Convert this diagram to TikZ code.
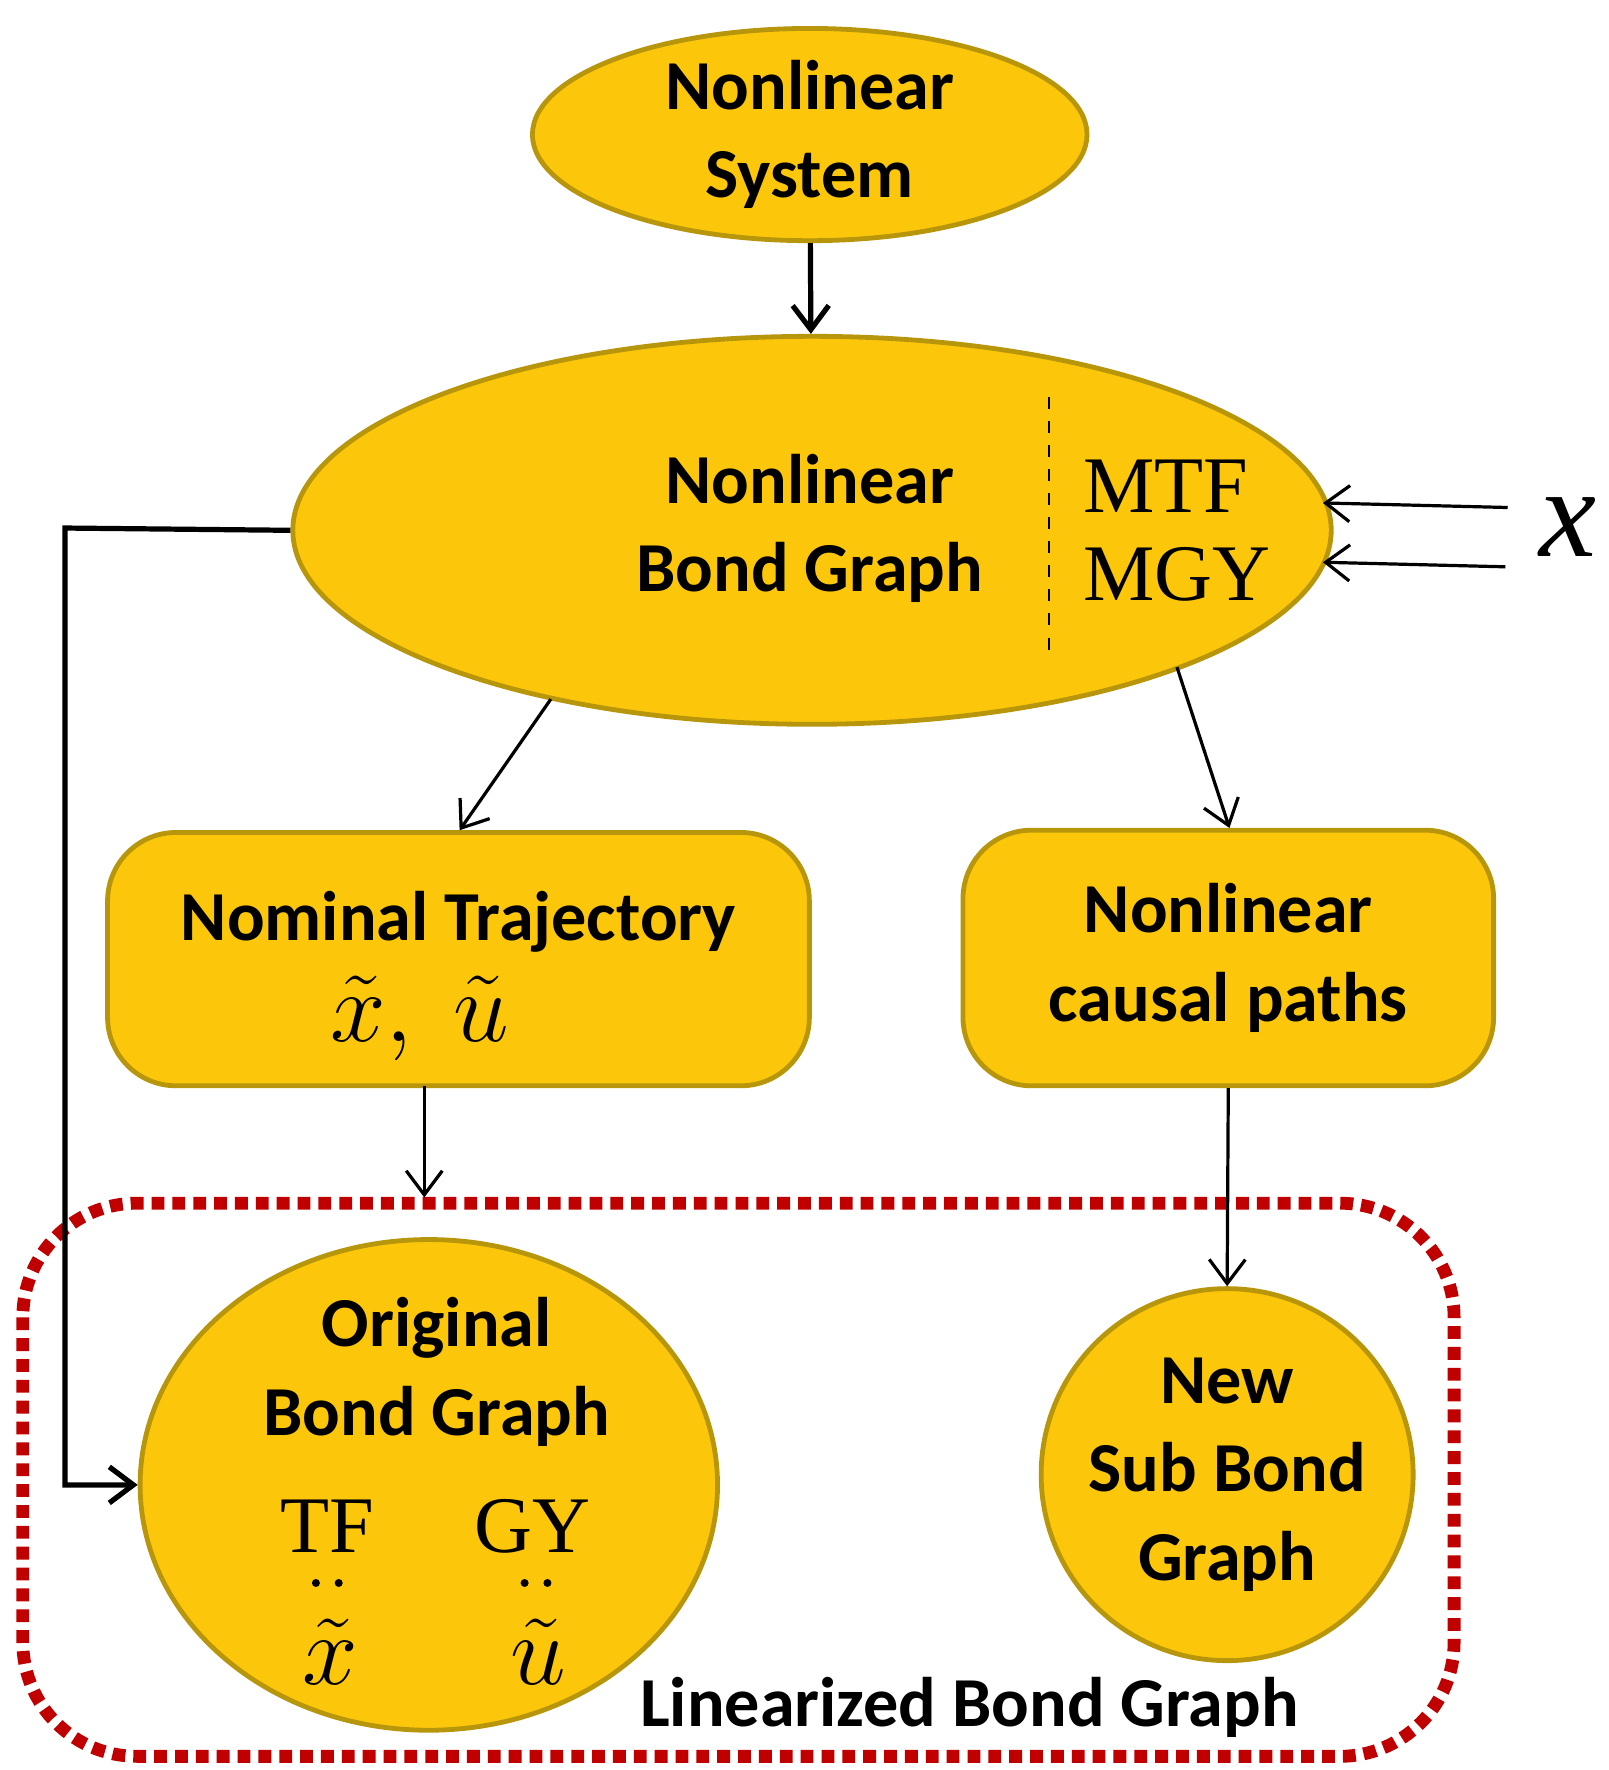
\documentclass[tikz,border=0pt]{standalone}
\usepackage{fontspec}
\setmainfont{Carlito}
\newfontfamily\serifrm{Liberation Serif}
\usetikzlibrary{shapes.geometric,arrows.meta}
\definecolor{gold}{RGB}{252,199,10}
\definecolor{goldline}{RGB}{184,150,12}
\definecolor{dotred}{RGB}{192,0,0}
\tikzset{
  blob/.style={fill=gold,draw=goldline,line width=1.2pt,inner sep=0pt,
    align=center,font=\fontsize{17.5}{22}\selectfont\bfseries},
  oval/.style={blob,ellipse},
  card/.style={blob,rectangle,rounded corners=0.6cm},
  thickarrow/.style={-{Straight Barb[length=6pt,width=9pt]},line width=1.3pt},
  thinarrow/.style={-{Straight Barb[length=6pt,width=9pt]},line width=0.8pt}
}
\begin{document}
\begin{tikzpicture}[x=0.01cm,y=-0.01cm]
  \useasboundingbox (0,0) rectangle (1410,1552);

  % linearized region
  \draw[dotred,line width=3.2pt,dotted,rounded corners=1cm] (20,1055) rectangle (1275,1540);
  \node[font=\fontsize{17.5}{22}\selectfont\bfseries] (lin) at (850,1497) {Linearized Bond Graph};

  \node[oval,minimum width=4.86cm,minimum height=1.86cm] (sys) at (710,118) {Nonlinear\\System};
  \node[oval,minimum width=9.1cm,minimum height=3.4cm] (nbg) at (712,465) {};
  \node[blob,fill=none,draw=none] (nbgtxt) at (710,463) {Nonlinear\\Bond Graph};
  \draw[dashed,line width=0.6pt] (920,348) -- (920,578);
  \node[font=\serifrm\fontsize{20}{22}\selectfont,align=left] (mtf) at (1032,465) {MTF\\MGY};
  \node[font=\serifrm\itshape\fontsize{32}{32}\selectfont] (xin) at (1375,462) {x};

  \node[card,minimum width=6.15cm,minimum height=2.22cm] (nom) at (402,841) {};
  \node[font=\fontsize{17.5}{22}\selectfont\bfseries] (nomtxt) at (402,808) {Nominal Trajectory};
  \node[font=\fontsize{26}{26}\selectfont] (nommath) at (368,893) {$\tilde{x},\ \tilde{u}$};
  \node[card,minimum width=4.65cm,minimum height=2.24cm] (ncp) at (1077,840) {Nonlinear\\causal paths};

  \node[oval,minimum width=5.06cm,minimum height=4.3cm] (obg) at (376,1302) {};
  \node[blob,fill=none,draw=none] (obgtxt) at (383,1203) {Original\\Bond Graph};
  \node[font=\serifrm\fontsize{20}{24}\selectfont] (tf) at (287,1338) {TF};
  \node[font=\serifrm\fontsize{20}{24}\selectfont] (gy) at (467,1338) {GY};
  \fill (277,1388) circle (3.5) (297,1388) circle (3.5) (460,1388) circle (3.5) (480,1388) circle (3.5);
  \node[font=\fontsize{28}{28}\selectfont] (xdd) at (290,1448) {$\tilde{x}$};
  \node[font=\fontsize{28}{28}\selectfont] (udd) at (472,1448) {$\tilde{u}$};

  \node[oval,circle,minimum size=3.26cm] (sub) at (1076,1293) {New\\Sub Bond\\Graph};

  \coordinate (x1) at (1322,445);
  \coordinate (x2) at (1320,497);
  \coordinate (nomout) at (372,952);
  \coordinate (lin top) at (372,1050);
  \coordinate (turn1) at (57,463);
  \coordinate (turn2) at (57,1302);

  \draw[thickarrow] (sys) -- (nbg);
  \draw[thinarrow] (x1) -- (1160,441);
  \draw[thinarrow] (x2) -- (1160,493);
  \draw[thinarrow] (483,613) -- (403,728);
  \draw[thinarrow] (1032,585) -- (1078,726);
  \draw[thinarrow] (nomout) -- (lin top);
  \draw[thinarrow] (ncp.south) -- (sub.north);
  \draw[thickarrow] (nbg.west) -- (turn1) -- (turn2) -- (obg.west);
\end{tikzpicture}
\end{document}
